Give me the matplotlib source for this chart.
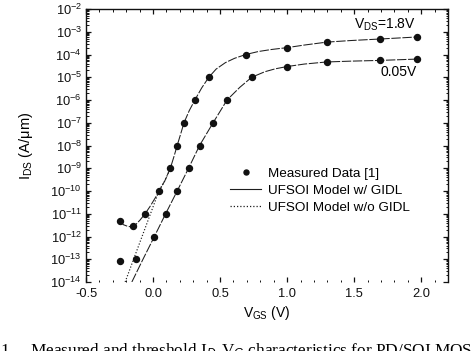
import matplotlib
matplotlib.use('Agg')
import matplotlib.pyplot as plt
from matplotlib.lines import Line2D
from matplotlib.ticker import FixedLocator, MultipleLocator, LogLocator, NullFormatter, FixedFormatter

plt.rcParams['font.family'] = ['Liberation Sans', 'DejaVu Sans']
plt.rcParams['mathtext.fontset'] = 'custom'
plt.rcParams['mathtext.rm'] = 'Liberation Sans'
plt.rcParams['mathtext.it'] = 'Liberation Sans:italic'
plt.rcParams['mathtext.bf'] = 'Liberation Sans:bold'

# ---------------- data ----------------
# Measured data, VDS = 1.8 V
v18_meas = [-0.25, -0.15, -0.06, 0.045, 0.13, 0.18, 0.23, 0.31, 0.415, 0.69, 1.0, 1.3, 1.69, 1.97]
i18_meas = [4.8e-12, 3.0e-12, 1e-11, 1e-10, 1e-9, 1e-8, 1e-7, 1e-6, 1e-5, 1e-4, 2.0e-4, 3.5e-4, 4.8e-4, 5.9e-4]
# Measured data, VDS = 0.05 V
v005_meas = [-0.25, -0.13, 0.01, 0.094, 0.18, 0.265, 0.347, 0.448, 0.552, 0.736, 1.0, 1.3, 1.69, 1.97]
i005_meas = [8e-14, 1e-13, 1e-12, 1e-11, 1e-10, 1e-9, 1e-8, 1e-7, 1e-6, 1e-5, 2.9e-5, 4.7e-5, 5.5e-5, 6.3e-5]

# UFSOI model with GIDL, VDS = 1.8 V
v18_gidl = [-0.25, -0.221, -0.186, -0.157, -0.128, -0.098, -0.059, -0.02, 0.02, 0.044, 0.088,
            0.129, 0.157, 0.18, 0.206, 0.231, 0.27, 0.312, 0.363, 0.416, 0.471, 0.54, 0.608,
            0.692, 0.785, 0.883, 0.999, 1.128, 1.295, 1.472, 1.694, 1.972]
i18_gidl = [4.8e-12, 3.3e-12, 2.75e-12, 2.7e-12, 3.4e-12, 5.2e-12, 1e-11, 2.2e-11, 5.4e-11, 1e-10, 2.8e-10,
            1e-9, 3.4e-9, 1e-8, 3.2e-8, 1e-7, 3.4e-7, 1e-6, 3.4e-6, 1e-5, 2.3e-5, 4.4e-5, 6.8e-5,
            1e-4, 1.35e-4, 1.66e-4, 2.0e-4, 2.6e-4, 3.5e-4, 4.1e-4, 4.8e-4, 5.9e-4]
# UFSOI model with GIDL, VDS = 0.05 V
v005_gidl = [-0.158, -0.075, 0.01, 0.094, 0.18, 0.265, 0.347, 0.448, 0.552, 0.647, 0.736,
             0.834, 0.912, 0.999, 1.128, 1.295, 1.472, 1.694, 1.972]
i005_gidl = [1e-14, 1e-13, 1e-12, 1e-11, 1e-10, 1e-9, 1e-8, 1e-7, 1e-6, 3.6e-6, 1e-5,
             1.75e-5, 2.35e-5, 2.95e-5, 3.8e-5, 4.7e-5, 5.1e-5, 5.5e-5, 6.3e-5]
# UFSOI model without GIDL, VDS = 1.8 V (sub-threshold part)
v18_nogidl = [-0.208, 0.044, 0.088, 0.129]
i18_nogidl = [1e-14, 1e-10, 2.8e-10, 1e-9]

yticks = [1e-14, 1e-13, 1e-12, 1e-11, 1e-10, 1e-9, 1e-8, 1e-7, 1e-6, 1e-5, 1e-4, 1e-3, 1e-2]
ytick_labels = ['10$^{-%d}$' % k for k in range(14, 1, -1)]
xticks = [-0.5, 0.0, 0.5, 1.0, 1.5, 2.0]
xtick_labels = ['-0.5', '0.0', '0.5', '1.0', '1.5', '2.0']
legend_labels = ['Measured Data [1]', 'UFSOI Model w/ GIDL', 'UFSOI Model w/o GIDL']

# ---------------- figure ----------------
fig = plt.figure(figsize=(4.74, 3.51), dpi=100)
ax = fig.add_axes([86 / 474, 1 - 282 / 351, 362 / 474, 273 / 351])

lc = '#1e1e1e'
dash = (0, (9, 1.6))
dot = (0, (1.0, 1.6))
ax.plot(v18_gidl, i18_gidl, color=lc, lw=0.75, ls=dash)
ax.plot(v005_gidl, i005_gidl, color=lc, lw=0.75, ls=dash)
ax.plot(v18_nogidl, i18_nogidl, color=lc, lw=0.85, ls=dot)
ax.plot(v18_meas, i18_meas, 'o', ms=4.3, color='#111111', zorder=3)
ax.plot(v005_meas, i005_meas, 'o', ms=4.3, color='#111111', zorder=3)

ax.set_yscale('log')
ax.set_xlim(-0.5, 2.2)
ax.set_ylim(1e-14, 1e-2)

ax.yaxis.set_major_locator(FixedLocator(yticks))
ax.yaxis.set_major_formatter(FixedFormatter(ytick_labels))
ax.yaxis.set_minor_locator(LogLocator(base=10, subs=range(2, 10), numticks=30))
ax.yaxis.set_minor_formatter(NullFormatter())
ax.xaxis.set_major_locator(FixedLocator(xticks))
ax.xaxis.set_major_formatter(FixedFormatter(xtick_labels))
ax.xaxis.set_minor_locator(MultipleLocator(0.1))

ax.tick_params(which='both', direction='in', top=True, right=True, labelsize=9.3, colors='#111111')
ax.tick_params(which='major', length=3.5, width=0.9, pad=3)
ax.tick_params(which='minor', length=1.8, width=0.7)
ax.tick_params(axis='x', pad=4)

for s in ['top', 'left', 'right']:
    ax.spines[s].set_linewidth(1.0)
    ax.spines[s].set_color('#111111')
ax.spines['bottom'].set_visible(False)

ax.set_xlabel('V$_{\\rm GS}$ (V)', fontsize=10, labelpad=3)
ax.set_ylabel('I$_{\\rm DS}$ (A/\u03bcm)', fontsize=10.5, labelpad=11)

ax.text(1.50, 10 ** -2.70, 'V$_{\\rm DS}$=1.8V', fontsize=10, va='center', ha='left')
ax.text(1.70, 10 ** -4.77, '0.05V', fontsize=10, va='center', ha='left')

handles = [Line2D([], [], marker='o', ls='none', ms=3.6, color='#111111'),
           Line2D([], [], color=lc, lw=0.8),
           Line2D([], [], color=lc, lw=0.9, ls=dot)]
ax.legend(handles, legend_labels, loc='upper left', bbox_to_anchor=(0.398, 0.42),
          frameon=False, fontsize=9.7, handlelength=2.3, handletextpad=0.55,
          labelspacing=0.33, borderpad=0, borderaxespad=0, numpoints=1)

fig.text(0.0, -0.012, '1.    Measured and threshold I$_{D}$-V$_{G}$ characteristics for PD/SOI MOS',
         family=['Liberation Serif', 'DejaVu Serif'], fontsize=12.4, ha='left', va='baseline')

fig.savefig('out.png', dpi=100)
